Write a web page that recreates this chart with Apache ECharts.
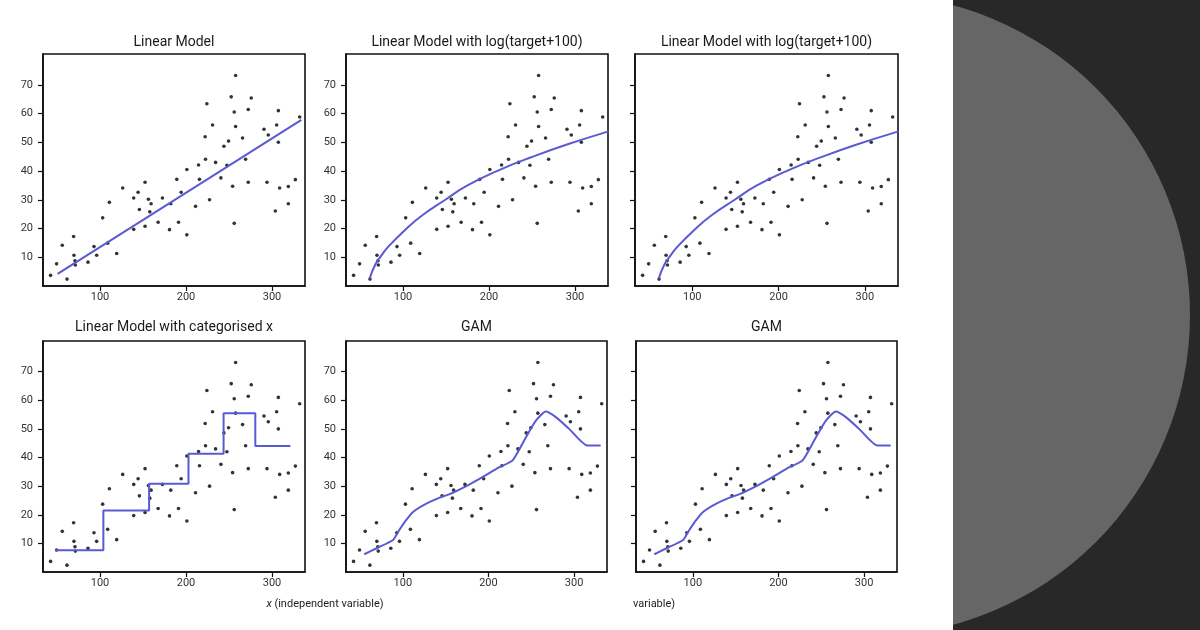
<!DOCTYPE html>
<html>
<head>
<meta charset="utf-8">
<script src="https://cdn.jsdelivr.net/npm/echarts@6/dist/echarts.min.js"></script>
<style>
html,body{margin:0;padding:0;background:#fff;}
#c{width:1200px;height:630px;}
</style>
</head>
<body>
<div id="c"></div>
<script>
// ---- data ----
const xVals = [42.5,49.5,56.1,61.6,69.3,69.7,70.9,71.3,86,93,96.1,103.1,108.9,110.9,119.4,126.4,139.2,139.2,144.3,145.8,152.4,152.4,156.3,157.9,159.4,167.6,172.6,180.8,182.3,189.3,191.3,194.4,201,201,211.1,214.6,215.7,222.3,222.7,224.3,227.4,230.9,234.4,240.6,244.1,247.6,249.5,252.6,254.2,256.1,256.1,257.7,257.7,265.8,269.3,272.4,272.4,275.9,290.7,294.2,295.7,303.9,305.4,307.4,307.4,308.9,319,319,327.2,332.2];
const yVals = [3.7,7.7,14.2,2.4,17.2,10.7,8.8,7.3,8.3,13.7,10.7,23.7,14.9,29.1,11.3,34.1,30.6,19.7,32.6,26.6,36.1,20.8,30.2,25.8,28.6,22.2,30.6,19.6,28.6,37.1,22.2,32.6,40.5,17.8,27.7,42.1,37.1,51.9,44.1,63.4,30.0,56.0,43.0,37.6,48.6,42.0,50.4,65.8,34.7,60.5,21.8,73.2,55.5,51.5,44.1,61.4,36.1,65.4,54.5,36.1,52.5,26.1,56.0,61.0,50.0,34.1,34.6,28.6,37.0,58.8];

const linX = [50.7, 334.2];
const linY = [4.2, 57.8];

const logX = [61.1, 67.8, 75.6, 83.2, 102.7, 122.1, 149.2, 174.4, 213.1, 251.9, 290.6, 339];
const logY = [2.5, 7.5, 10.9, 13.8, 19.6, 24.5, 30.0, 34.9, 40.5, 45.1, 49.2, 53.8];

const stepX = [47.6, 103.9, 157.1, 202.9, 243.7, 280.6, 321.4];
const stepY = [7.6, 21.5, 30.8, 41.3, 55.5, 44.0, 44.0];

const gamX = [55.0, 69.4, 88.7, 94.5, 102.3, 112.0, 127.5, 143.0, 154.6, 175.9, 190.0, 212.8, 228.2, 243.8, 255.4, 267.1, 278.7, 294.2, 315.4, 331.0];
const gamY = [6.2, 8.3, 11.2, 14.0, 17.5, 21.0, 23.9, 26.0, 27.2, 30.3, 32.6, 36.6, 39.0, 47.1, 52.9, 56.1, 54.1, 50.0, 44.2, 44.2];

const titles = ['Linear Model', 'Linear Model with log(target+100)', 'Linear Model with log(target+100)',
                'Linear Model with categorised x', 'GAM', 'GAM'];
const xTicks = [100, 200, 300];
const yTicks = [10, 20, 30, 40, 50, 60, 70];
const xLabelText = '(independent variable)';

// ---- layout ----
const grids = [
  {left: 43,  top: 54,  width: 262, height: 232},
  {left: 346, top: 54,  width: 262, height: 232},
  {left: 635, top: 54,  width: 263, height: 232},
  {left: 43,  top: 341, width: 262, height: 231},
  {left: 346, top: 341, width: 261, height: 231},
  {left: 636, top: 341, width: 261, height: 231}
];
const fits = [
  {x: linX, y: linY, smooth: false, step: false},
  {x: logX, y: logY, smooth: true, step: false},
  {x: logX, y: logY, smooth: true, step: false},
  {x: stepX, y: stepY, smooth: false, step: 'end'},
  {x: gamX, y: gamY, smooth: 0.2, step: false},
  {x: gamX, y: gamY, smooth: 0.2, step: false}
];
const lineColor = '#5a5ad2';
const pts = xVals.map((v, i) => [v, yVals[i]]);

const option = {
  backgroundColor: '#ffffff',
  animation: false,
  textStyle: {fontFamily: 'Roboto, "Liberation Sans", sans-serif'},
  graphic: [
    {type: 'rect', z: -30, shape: {x: 953, y: 0, width: 247, height: 630}, style: {fill: '#282828'}},
    {type: 'circle', z: -29, shape: {cx: 869, cy: 315, r: 321}, style: {fill: '#666666'}},
    {type: 'rect', z: -28, shape: {x: 0, y: 0, width: 953, height: 630}, style: {fill: '#ffffff'}},
    {type: 'text', z: 10, left: 633, top: 599,
     style: {text: 'variable)', fill: '#222', font: '11px Roboto, sans-serif'}}
  ],
  title: grids.map((g, i) => ({
    text: titles[i],
    left: g.left + g.width / 2,
    top: i < 3 ? 35 : 320,
    textAlign: 'center',
    padding: 0,
    textStyle: {fontSize: 14, fontWeight: 'normal', color: '#1a1a1a', fontFamily: 'Roboto, sans-serif'}
  })).concat([{
    text: '{i|x} ' + xLabelText,
    left: 325,
    top: 599,
    textAlign: 'center',
    padding: 0,
    textStyle: {fontSize: 11, fontWeight: 'normal', color: '#222', fontFamily: 'Roboto, sans-serif',
      rich: {i: {fontStyle: 'italic', fontSize: 11, color: '#222', fontFamily: 'Roboto, sans-serif'}}}
  }]),
  grid: grids.map(g => Object.assign({show: true, borderColor: '#111', borderWidth: 1.6, backgroundColor: '#fff'}, g)),
  xAxis: grids.map((g, i) => ({
    type: 'value', gridIndex: i, min: 33.7, max: 338.4,
    splitLine: {show: false},
    axisLine: {show: true, lineStyle: {color: '#111', width: 1.6}},
    axisTick: {show: true, length: 5, customValues: xTicks, lineStyle: {color: '#111', width: 1.2}},
    axisLabel: {show: true, customValues: xTicks, fontSize: 11, color: '#333', margin: 6}
  })),
  yAxis: grids.map((g, i) => ({
    type: 'value', gridIndex: i, min: 0, max: 80.7,
    splitLine: {show: false},
    axisLine: {show: true, lineStyle: {color: '#111', width: 1.6}},
    axisTick: {show: true, length: 5, customValues: yTicks, lineStyle: {color: '#111', width: 1.2}},
    axisLabel: {show: (i % 3) !== 2, customValues: yTicks, fontSize: 11, color: '#333', margin: 10}
  })),
  series: []
};

grids.forEach((g, i) => {
  option.series.push({
    type: 'scatter', xAxisIndex: i, yAxisIndex: i, data: pts,
    symbol: 'circle', symbolSize: 3.6, itemStyle: {color: '#000'}, z: 3
  });
  const f = fits[i];
  option.series.push({
    type: 'line', xAxisIndex: i, yAxisIndex: i,
    data: f.x.map((v, k) => [v, f.y[k]]),
    smooth: f.smooth, step: f.step, showSymbol: false, symbol: 'none',
    lineStyle: {color: lineColor, width: 2}, z: 4
  });
});

const chart = echarts.init(document.getElementById('c'), null, {renderer: 'canvas'});
chart.setOption(option);
</script>
</body>
</html>
